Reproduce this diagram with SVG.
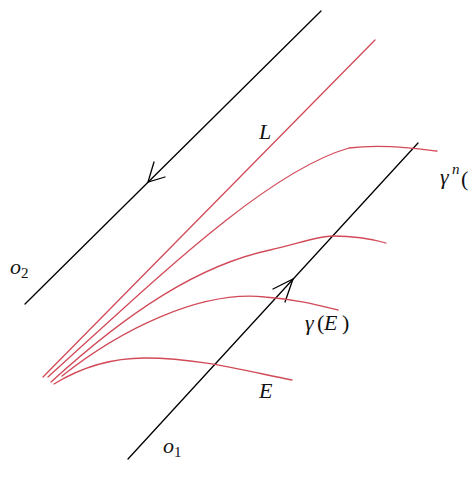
<svg xmlns="http://www.w3.org/2000/svg" width="474" height="478" viewBox="0 0 474 478">
<style>
.blk{stroke:#000;stroke-width:1.3;fill:none;stroke-linecap:round}
.red{stroke:#d24a58;stroke-width:1.3;fill:none;stroke-linecap:round}
.lbl{font-family:"Liberation Serif","DejaVu Serif",serif;font-style:italic;font-size:22px;fill:#111}
.up{font-style:normal}
.sub{font-style:normal;font-size:15px}
</style>
<rect width="474" height="478" fill="#fff"/>
<g id="connectors">
<path class="blk" d="M25,304 L321,11"/>
<path class="blk" d="M154,162 L148,182 L165,177"/>
<path class="blk" d="M128,459 L418,143"/>
<path class="blk" d="M273,289 L293,279 L285,302"/>
</g>
<g id="L-line"><path class="red" d="M43,377 L375,40"/></g>
<g id="gamma-n"><path class="red" d="M48,377 C150,285 265,172 349,148 C380,144 410,148 437,151"/></g>
<g id="curve3"><path class="red" d="M51,382 C130,310 200,265 270,250 C300,243 318,236 333,236 C355,236 372,239 386,243"/></g>
<g id="gamma-E"><path class="red" d="M62,376 C120,330 200,290 265,297 C295,299 318,305 338,310"/></g>
<g id="E-curve"><path class="red" d="M54,384 C80,368 110,358 145,358 C200,358 250,372 292,380"/></g>
<g id="labels">
<text class="lbl" x="259" y="139">L</text>
<text class="lbl" x="440" y="184">γ<tspan font-size="15" x="452" y="174">n</tspan><tspan class="up" x="461" y="186">(</tspan></text>
<text class="lbl" x="305" y="330">γ<tspan class="up" x="317">(</tspan><tspan x="324">E</tspan><tspan class="up" x="342">)</tspan></text>
<text class="lbl" x="259" y="398">E</text>
<text class="lbl" x="163" y="453">o<tspan class="sub" dy="4">1</tspan></text>
<text class="lbl" x="10" y="274">o<tspan class="sub" dy="4">2</tspan></text>
</g>
</svg>
